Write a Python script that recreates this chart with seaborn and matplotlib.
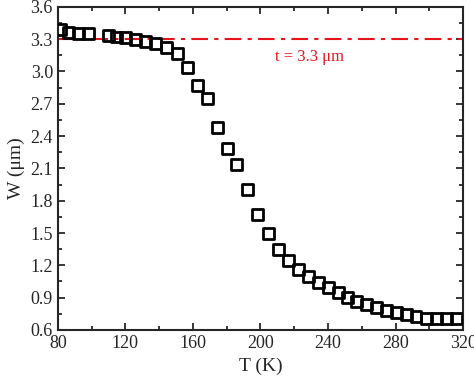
import numpy as np
import pandas as pd
import seaborn as sns
import matplotlib.pyplot as plt
from matplotlib.ticker import MultipleLocator

# data
temp_K = [81.8, 86.1, 92.0, 98.0, 109.8, 114.8, 120.3, 126.2, 132.1, 137.9,
          144.4, 150.7, 156.6, 162.5, 168.5, 174.4, 180.5, 185.9, 192.2, 198.3,
          204.6, 210.5, 216.4, 222.8, 228.7, 234.5, 240.4, 246.3, 251.4, 257.0,
          262.9, 268.9, 274.8, 280.7, 286.6, 292.1, 298.1, 304.0, 309.9, 315.9]
width_um = [3.386, 3.365, 3.350, 3.355, 3.330, 3.320, 3.318, 3.300, 3.280, 3.260,
            3.226, 3.167, 3.036, 2.866, 2.749, 2.480, 2.284, 2.140, 1.900, 1.675,
            1.499, 1.350, 1.244, 1.158, 1.096, 1.040, 0.991, 0.947, 0.904, 0.867,
            0.839, 0.808, 0.780, 0.759, 0.740, 0.724, 0.710, 0.710, 0.710, 0.710]
thickness = 3.3
thickness_label = "t = 3.3 μm"

df = pd.DataFrame({"T": temp_K, "W": width_um})

sns.set_style("ticks")
plt.rcParams['font.family'] = ['Liberation Serif', 'DejaVu Serif']

fig = plt.figure(figsize=(4.74, 3.81), dpi=100)
ax = fig.add_axes([0.122, 0.134, 0.855, 0.848])

ax.plot([80, 320], [thickness, thickness], color="#e8141c", lw=1.5,
        linestyle=(0, (8, 3, 2, 3)), zorder=1)
sns.scatterplot(data=df, x="T", y="W", marker="s", s=62, facecolor="none",
                edgecolor="black", linewidth=2, ax=ax, zorder=3)
ax.text(229, 3.13, thickness_label, color="#e8141c", fontsize=12,
        ha="center", va="center")

ax.set_xlim(80, 320)
ax.set_ylim(0.6, 3.6)
ax.xaxis.set_major_locator(MultipleLocator(40))
ax.xaxis.set_minor_locator(MultipleLocator(20))
ax.yaxis.set_major_locator(MultipleLocator(0.3))
ax.yaxis.set_minor_locator(MultipleLocator(0.15))
ax.yaxis.set_major_formatter(plt.FormatStrFormatter('%.1f'))
ax.tick_params(which="both", direction="in", top=True, right=True,
               labelsize=13, width=1.3)
ax.tick_params(which="major", length=5)
ax.tick_params(which="minor", length=3)
for s in ax.spines.values():
    s.set_linewidth(1.5)

ax.set_xlabel("T (K)", fontsize=14)
ax.set_ylabel("W (μm)", fontsize=14)

fig.savefig("out.png", dpi=100)
